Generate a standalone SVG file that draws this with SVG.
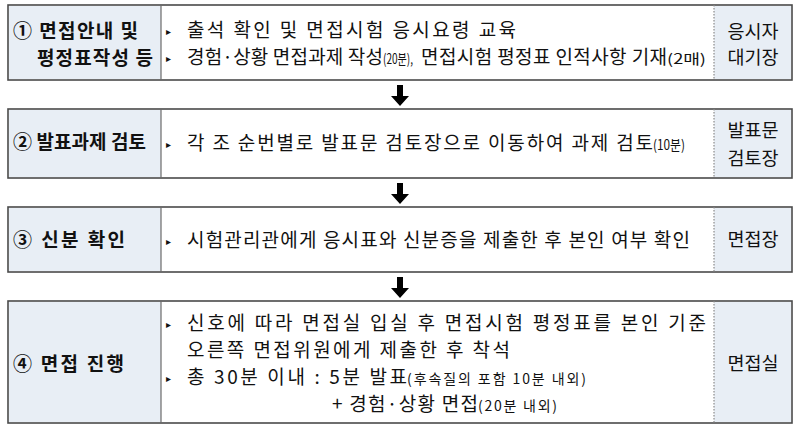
<svg xmlns="http://www.w3.org/2000/svg" width="800" height="432" viewBox="0 0 800 432">
<style>
.box{fill:#ffffff;stroke:#4a4a4a;stroke-width:1.6}
.cell{fill:#e8eef5}
.div{stroke:#6a6a6a;stroke-width:1.2}
.dot{stroke:#8a8a8a;stroke-width:1.2;stroke-dasharray:1.5 1.5}
text{font-family:"Malgun Gothic","Noto Sans CJK KR",sans-serif;fill:#111}
.lab{font-size:19px;font-weight:700}
.t{font-size:19px}
.s{font-size:14px}
.r{font-size:18.5px;text-anchor:middle}
.b{font-family:"DejaVu Sans",sans-serif;font-size:10px}
.arr{fill:#000}
</style>
<rect width="800" height="432" fill="#ffffff"/>
<g id="node1">
<rect class="box" x="8" y="5" width="784" height="75"/>
<rect class="cell" x="9" y="6" width="152" height="73"/>
<rect class="cell" x="714" y="6" width="77" height="73"/>
<line class="div" x1="161" y1="5" x2="161" y2="80"/>
<line class="dot" x1="714" y1="5" x2="714" y2="80"/>
<text class="lab" x="13" y="38" textLength="125" lengthAdjust="spacing">① 면접안내 및</text>
<text class="lab" x="37" y="65" textLength="116" lengthAdjust="spacing">평정표작성 등</text>
<text class="b" x="166" y="35">▸</text>
<text class="t" x="187" y="37" textLength="329" lengthAdjust="spacing">출석 확인 및 면접시험 응시요령 교육</text>
<text class="b" x="166" y="62">▸</text>
<text class="t" x="187" y="64" textLength="196" lengthAdjust="spacing">경험·상황 면접과제 작성</text>
<text class="s" x="383" y="64" textLength="30" lengthAdjust="spacingAndGlyphs">(20분),</text>
<text class="t" x="421" y="64" textLength="246" lengthAdjust="spacing">면접시험 평정표 인적사항 기재</text>
<text class="s" x="667" y="64" textLength="39" lengthAdjust="spacingAndGlyphs">(2매)</text>
<text class="r" x="753" y="38">응시자</text>
<text class="r" x="753" y="64">대기장</text>
</g>
<g id="node2">
<rect class="box" x="8" y="109" width="784" height="69"/>
<rect class="cell" x="9" y="110" width="152" height="67"/>
<rect class="cell" x="714" y="110" width="77" height="67"/>
<line class="div" x1="161" y1="109" x2="161" y2="178"/>
<line class="dot" x1="714" y1="109" x2="714" y2="178"/>
<text class="lab" x="13" y="149" textLength="133" lengthAdjust="spacing">② 발표과제 검토</text>
<text class="b" x="166" y="148">▸</text>
<text class="t" x="187" y="150" textLength="466" lengthAdjust="spacing">각 조 순번별로 발표문 검토장으로 이동하여 과제 검토</text>
<text class="s" x="653" y="150" textLength="32" lengthAdjust="spacingAndGlyphs">(10분)</text>
<text class="r" x="753" y="137">발표문</text>
<text class="r" x="753" y="165">검토장</text>
</g>
<g id="node3">
<rect class="box" x="8" y="207" width="784" height="65"/>
<rect class="cell" x="9" y="208" width="152" height="63"/>
<rect class="cell" x="714" y="208" width="77" height="63"/>
<line class="div" x1="161" y1="207" x2="161" y2="272"/>
<line class="dot" x1="714" y1="207" x2="714" y2="272"/>
<text class="lab" x="13" y="247" textLength="112" lengthAdjust="spacing">③ 신분 확인</text>
<text class="b" x="166" y="245">▸</text>
<text class="t" x="187" y="247" textLength="503" lengthAdjust="spacing">시험관리관에게 응시표와 신분증을 제출한 후 본인 여부 확인</text>
<text class="r" x="753" y="246">면접장</text>
</g>
<g id="node4">
<rect class="box" x="8" y="301" width="784" height="122"/>
<rect class="cell" x="9" y="302" width="152" height="120"/>
<rect class="cell" x="714" y="302" width="77" height="120"/>
<line class="div" x1="161" y1="301" x2="161" y2="423"/>
<line class="dot" x1="714" y1="301" x2="714" y2="423"/>
<text class="lab" x="13" y="371" textLength="111" lengthAdjust="spacing">④ 면접 진행</text>
<text class="b" x="166" y="328">▸</text>
<text class="t" x="187" y="330" textLength="519" lengthAdjust="spacing">신호에 따라 면접실 입실 후 면접시험 평정표를 본인 기준</text>
<text class="t" x="187" y="357" textLength="323" lengthAdjust="spacing">오른쪽 면접위원에게 제출한 후 착석</text>
<text class="b" x="166" y="382">▸</text>
<text class="t" x="187" y="384" textLength="220" lengthAdjust="spacing">총 30분 이내 : 5분 발표</text>
<text class="s" x="407" y="384" textLength="179" lengthAdjust="spacing">(후속질의 포함 10분 내외)</text>
<text class="t" x="332" y="411" textLength="146" lengthAdjust="spacing">+ 경험·상황 면접</text>
<text class="s" x="478" y="411" textLength="79" lengthAdjust="spacing">(20분 내외)</text>
<text class="r" x="753" y="370">면접실</text>
</g>
<g id="connectors">
<polygon class="arr" points="397,85 403,85 403,96 409,96 400,106 391,96 397,96"/>
<polygon class="arr" points="397,183 403,183 403,194 409,194 400,204 391,194 397,194"/>
<polygon class="arr" points="397,277 403,277 403,288 409,288 400,298 391,288 397,288"/>
</g>
</svg>
